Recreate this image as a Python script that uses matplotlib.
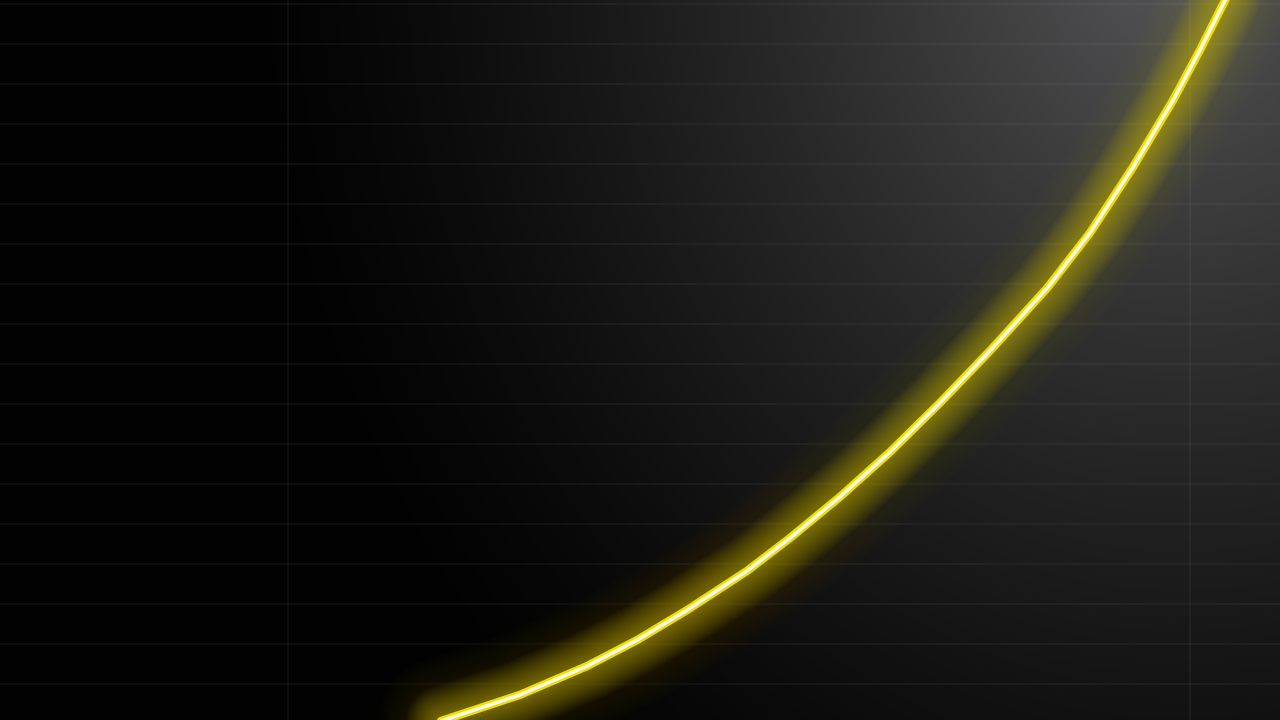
import numpy as np
import matplotlib
matplotlib.use("Agg")
import matplotlib.pyplot as plt

# curve (x, y in grid units, 40 px per unit)
curve_x = [10.5, 11.25, 13.0, 14.68, 15.93, 17.18, 18.68, 19.75, 21.0,
           22.25, 23.5, 24.75, 26.18, 27.25, 28.33, 29.33, 30.0, 30.63, 31.0]
curve_y = [-0.1, 0.15, 0.73, 1.45, 2.1, 2.85, 3.83, 4.65, 5.68,
           6.8, 8.03, 9.33, 10.9, 12.28, 13.93, 15.6, 16.85, 18.1, 18.85]

grid_y = list(range(1, 19))
grid_x = [7.2, 29.75]

X_MAX = 32.0
Y_MIN, Y_MAX = 0.1, 18.1


def background(width=640, height=360):
    """
    Radial grey light from the top right corner.
    """
    px = np.linspace(0, 1280, width)
    py = np.linspace(0, 720, height)
    gx, gy = np.meshgrid(px, py)
    dist = np.hypot(gx - 1180, (gy + 60) * 0.85)
    val = 85 * np.clip(1 - dist / 950, 0, 1) ** 1.4 + 2
    val = val / 255.0
    return np.dstack([val, val, val * 1.02]).clip(0, 1)


def main() -> None:
    fig = plt.figure(figsize=(12.8, 7.2), dpi=100)
    ax = fig.add_axes([0, 0, 1, 1])
    ax.set_xlim(0, X_MAX)
    ax.set_ylim(Y_MIN, Y_MAX)
    ax.axis("off")

    ax.imshow(background(), extent=[0, X_MAX, Y_MIN, Y_MAX],
              aspect="auto", origin="upper", zorder=0, interpolation="bilinear")

    for gy in grid_y:
        ax.axhline(gy, color="white", alpha=0.04, lw=1.4, zorder=1)
    for gx in grid_x:
        ax.axvline(gx, color="white", alpha=0.045, lw=1.6, zorder=1)

    line_kw = dict(solid_capstyle="round", solid_joinstyle="round")

    # faint wide haze, then the tighter glow
    for width in np.linspace(90, 54, 8):
        ax.plot(curve_x, curve_y, color="#c8b400", lw=width, alpha=0.012,
                zorder=2, **line_kw)
    for width in np.linspace(50, 7, 16):
        ax.plot(curve_x, curve_y, color="#d8c400", lw=width, alpha=0.042,
                zorder=2, **line_kw)
    ax.plot(curve_x, curve_y, color="#f0de00", lw=6, zorder=3, **line_kw)
    ax.plot(curve_x, curve_y, color="#fffbe0", lw=2.6, zorder=4, **line_kw)

    fig.savefig("out.png", dpi=100, facecolor="black")
    plt.close(fig)


if __name__ == "__main__":
    main()
